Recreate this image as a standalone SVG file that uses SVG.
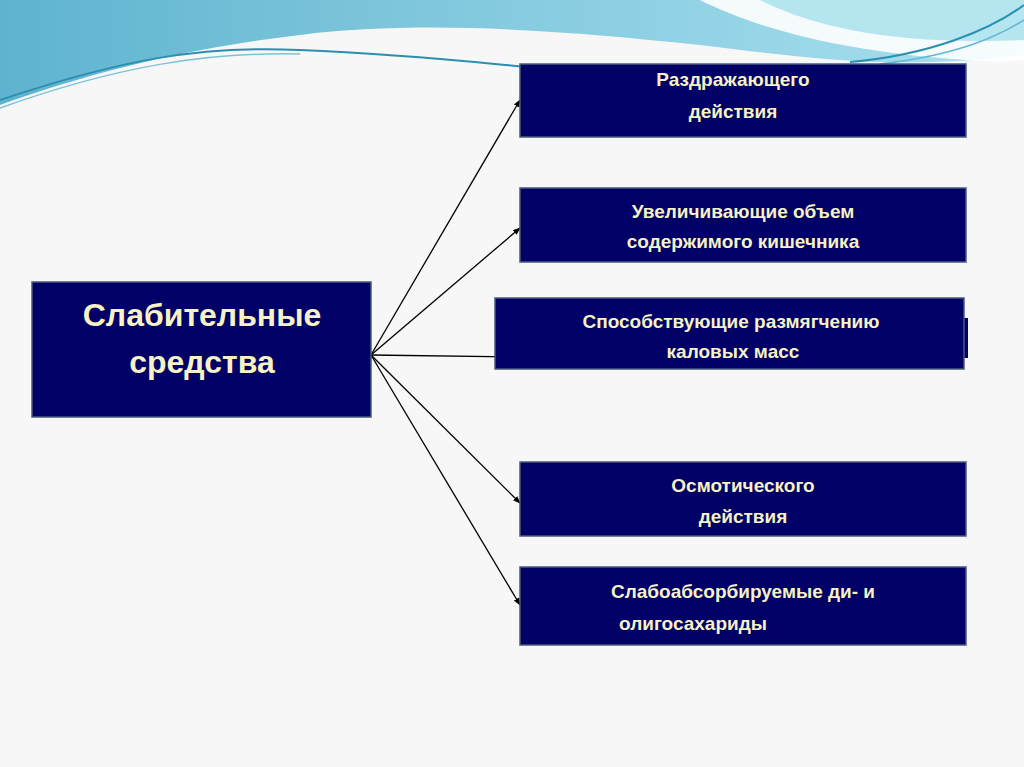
<svg xmlns="http://www.w3.org/2000/svg" width="1024" height="767" viewBox="0 0 1024 767">
<defs>
<linearGradient id="wv" x1="0" y1="0" x2="1" y2="0"><stop offset="0" stop-color="#5fb3cf"/><stop offset="0.5" stop-color="#86cbe0"/><stop offset="1" stop-color="#a9e0ee"/></linearGradient>
<marker id="ar" markerWidth="8" markerHeight="8" refX="7" refY="4" orient="auto" markerUnits="userSpaceOnUse"><path d="M0,1 L8,4 L0,7 z" fill="#000"/></marker>
</defs>
<style>
.box{fill:#000066;stroke:#4a5a7a;stroke-width:1.5}
.t{font-family:"Liberation Sans",Arial,sans-serif;font-weight:bold;font-size:19px;fill:#f7f2c4;text-anchor:middle}
.big{font-size:32px}
.c{stroke:#000;stroke-width:1.3;fill:none;marker-end:url(#ar)}
</style>
<rect width="1024" height="767" fill="#f7f7f7"/>
<path d="M0,0 H1024 V55 C900,70 820,60 700,45 C560,30 420,20 300,35 C170,50 70,80 0,105 Z" fill="url(#wv)"/>
<path d="M700,0 C760,30 850,55 1000,62 L1024,60 V0 Z" fill="#ffffff" opacity="0.9"/>
<path d="M760,0 C820,30 900,45 1024,40 V0 Z" fill="#b5e6f0"/>
<path d="M0,100 C120,60 200,45 300,50 C420,55 500,65 540,68" stroke="#2a8fb0" stroke-width="2" fill="none"/>
<path d="M0,108 C120,65 210,52 300,54" stroke="#7cc3d8" stroke-width="1.5" fill="none"/>
<path d="M850,62 C930,55 990,30 1024,5" stroke="#2a8fb0" stroke-width="2" fill="none"/>
<path d="M880,64 C960,55 1000,35 1024,20" stroke="#5fb9d0" stroke-width="1.5" fill="none"/>
<g id="connectors">
<path class="c" d="M371,355 L520,100"/>
<path class="c" d="M371,355 L520,228"/>
<path class="c" d="M371,355 L520,357"/>
<path class="c" d="M371,355 L520,503"/>
<path class="c" d="M371,355 L520,605"/>
</g>
<g id="main"><rect class="box" x="32" y="282" width="339" height="135"/>
<text class="t big" x="202" y="326">Слабительные</text><text class="t big" x="202" y="373">средства</text></g>
<g id="n1"><rect class="box" x="520" y="64" width="446" height="73"/>
<text class="t" x="733" y="86">Раздражающего</text><text class="t" x="733" y="118">действия</text></g>
<g id="n2"><rect class="box" x="520" y="188" width="446" height="74"/>
<text class="t" x="743" y="218">Увеличивающие объем</text><text class="t" x="743" y="248">содержимого кишечника</text></g>
<g id="n3"><rect x="950" y="318" width="18" height="40" fill="#000066"/><rect class="box" x="495" y="298" width="469" height="71"/>
<text class="t" x="731" y="328">Способствующие размягчению</text><text class="t" x="733" y="358">каловых масс</text></g>
<g id="n4"><rect class="box" x="520" y="462" width="446" height="74"/>
<text class="t" x="743" y="492">Осмотического</text><text class="t" x="743" y="523">действия</text></g>
<g id="n5"><rect class="box" x="520" y="567" width="446" height="78" stroke="#1a4aa0" stroke-width="2.5"/>
<text class="t" x="743" y="598">Слабоабсорбируемые ди- и</text><text class="t" x="693" y="630">олигосахариды</text></g>
</svg>
